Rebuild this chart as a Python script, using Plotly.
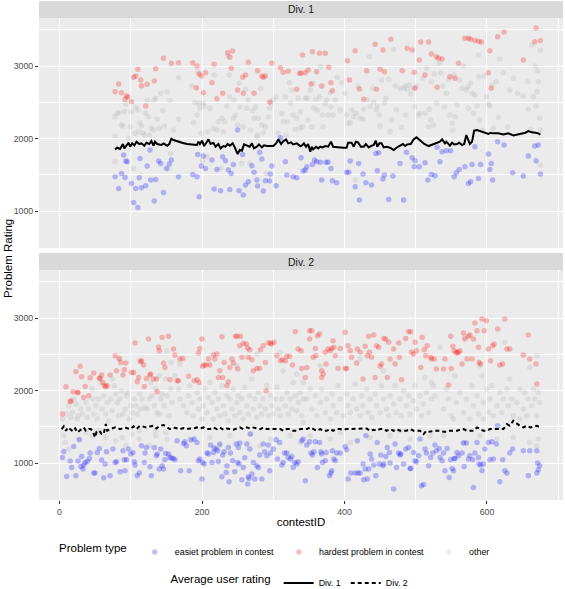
import plotly.graph_objects as go

# ---------------- Div. 1 data ----------------
d1_easy_id = [78, 83, 90, 87, 93, 95, 92, 101, 104, 107, 110, 113, 115, 112, 121, 123, 127, 128, 133, 135,
              139, 142, 146, 150, 154, 157, 167, 187, 193, 194, 196, 199, 202, 205, 214, 217, 221, 226, 229, 233,
              237, 239, 241, 244, 250, 252, 257, 258, 261, 265, 270, 273, 277, 278, 281, 284, 286, 289, 295, 296,
              298, 304, 310, 317, 319, 328, 333, 339, 342, 345, 347, 355, 358, 361, 366, 368, 374, 377, 381, 383,
              389, 403, 406, 408, 415, 420, 421, 426, 430, 438, 444, 446, 448, 454, 456, 462, 468, 478, 483, 487,
              495, 498, 499, 505, 513, 517, 522, 527, 530, 534, 537, 543, 549, 554, 557, 561, 569, 574, 577, 579,
              583, 588, 591, 602, 604, 606, 608, 615, 624, 636, 651, 658, 667, 672, 669, 675]
d1_easy_r = [1473, 1312, 1772, 1519, 1689, 1680, 1464, 1381, 1119, 1312, 1050, 1726, 1321, 1459, 1349, 1620, 1841, 1427, 1137, 1436,
             1689, 1657, 1257, 1588, 1648, 1703, 1473, 1505, 1473, 1781, 1197, 1620, 1758, 1588, 1703, 1303, 1574, 1280, 1749, 1694,
             1565, 1298, 1519, 1643, 2117, 1280, 1781, 1220, 1358, 1404, 1625, 1533, 1427, 1344, 1809, 1717, 1275, 1418, 1413, 1510,
             1620, 1349, 2011, 1680, 1496, 1473, 1459, 1735, 1551, 1565, 1611, 1643, 1703, 1680, 1671, 1427, 1671, 1671, 1588, 1418,
             1390, 1533, 1533, 1689, 1335, 1657, 1151, 1510, 1390, 1358, 1795, 1556, 1804, 1441, 1496, 1160, 1482, 1657, 1151, 1809,
             1735, 1611, 1694, 1611, 1666, 1427, 1505, 1487, 1878, 1680, 1818, 1832, 1832, 1473, 1528, 1574, 1611, 1381, 1404, 1643,
             1887, 1450, 1643, 1786, 1574, 1657, 1427, 1956, 1910, 1528, 1482, 1758, 1896, 1910, 1694, 1510]

d1_hard_id = [78, 83, 87, 92, 94, 96, 101, 104, 107, 110, 114, 115, 123, 121, 133, 135, 146, 157, 167, 187,
              193, 192, 196, 199, 202, 205, 214, 217, 221, 229, 236, 239, 243, 241, 250, 258, 257, 261, 265, 273,
              278, 284, 286, 289, 295, 298, 310, 314, 321, 333, 337, 339, 341, 345, 349, 353, 355, 361, 365, 368,
              373, 378, 381, 383, 404, 407, 415, 421, 427, 431, 443, 445, 450, 454, 456, 465, 481, 488, 495, 498,
              499, 505, 507, 513, 518, 522, 529, 532, 537, 530, 548, 555, 560, 569, 574, 577, 583, 588, 592, 604,
              602, 606, 615, 624, 651, 669, 667, 675]
d1_hard_r = [2646, 2752, 2632, 2540, 2586, 2572, 2508, 2844, 2862, 2954, 2807, 2729, 2747, 2448, 2793, 2963, 3106, 3037, 3046, 3046,
             3000, 2701, 2890, 2862, 2632, 2908, 2770, 3023, 2549, 2623, 3184, 3120, 3207, 2968, 2669, 2623, 2844, 2876, 3051, 2623,
             2936, 2862, 2844, 2862, 2503, 3037, 2977, 2913, 2926, 2678, 2899, 2899, 3152, 2908, 2945, 2752, 3198, 2922, 3175, 2724,
             3175, 2982, 2770, 2660, 3074, 2807, 3212, 2683, 2540, 2936, 3299, 2678, 2954, 3221, 2922, 3368, 2936, 3244, 3221, 2913,
             2692, 3083, 3331, 2876, 3331, 3166, 3129, 3106, 3097, 2706, 2853, 2830, 3037, 3382, 3382, 3368, 3350, 3340, 3331, 3212,
             2908, 2692, 3405, 3469, 3083, 3524, 3336, 3350]

d1_other_id = [78, 78, 78, 81, 84, 87, 89, 91, 93, 97, 99, 101, 104, 106, 107, 110, 111, 113, 115, 117,
               119, 121, 123, 125, 126, 129, 132, 133, 135, 137, 140, 142, 145, 147, 151, 153, 155, 156, 160, 167,
               167, 186, 188, 190, 193, 194, 196, 197, 199, 201, 202, 203, 207, 208, 211, 216, 217, 221, 223, 226,
               228, 230, 232, 235, 236, 238, 239, 244, 245, 247, 250, 252, 253, 256, 258, 261, 263, 265, 267, 268,
               271, 273, 275, 277, 278, 279, 282, 284, 286, 289, 290, 293, 295, 297, 300, 304, 307, 310, 312, 314,
               317, 318, 320, 323, 324, 326, 328, 331, 333, 335, 338,
               338, 341, 345, 348, 349, 352, 354, 356, 357, 360, 362, 365, 367, 369, 370, 373, 375, 377, 380, 381,
               384, 387, 390, 394, 396, 401, 403, 405, 408, 410, 413, 415, 416, 419, 422, 426, 427, 432, 435, 436,
               440, 441, 445, 446, 449, 450, 452, 456, 458, 462, 464, 466, 469, 471, 473, 478, 480, 483, 485, 486,
               488, 491, 493, 497, 499, 501, 504, 506, 510, 513, 515, 518, 519, 521, 522, 525, 526, 529, 533, 535,
               538, 540, 543, 546, 548, 551, 552, 554, 555, 558, 561, 565, 567, 571, 573, 574, 577, 579, 581, 583,
               586, 588, 589, 590, 594, 596, 599, 602, 604, 607, 609, 613, 616, 618, 623, 629, 632, 637, 643, 651,
               657, 658, 661, 663, 665, 668, 669, 671, 672, 674, 675, 675, 675, 670]
d1_other_r = [2301, 2034, 1680, 2347, 2356, 2186, 2172, 2370, 2476, 2002, 2163, 2370, 1588, 2071, 2430, 2393, 2094, 2218, 2172, 2080,
              2048, 2347, 2531, 2301, 2048, 2140, 2117, 2531, 2554, 2264, 2140, 2623, 2384, 2172, 2646, 1588, 2522, 1795, 2117, 2839,
              2264, 2724, 2218, 2494, 2324, 2922, 2485, 2416, 2071, 1694, 2485, 2448, 1749, 2094, 2416, 2140, 2876, 2117, 2232, 1588,
              2278, 2094, 2232, 2448, 3138, 2876, 2577, 2278, 2531, 2324, 2186, 2761, 2430, 1657, 2163, 2678, 2416, 2531, 1657, 2117,
              2379, 2278, 2430, 2025, 2048, 2278, 2692, 2186, 2080, 2163, 1519, 2301, 2416, 2485, 2531, 2577, 2071, 1979, 2347, 2232,
              2577, 2048, 2232, 2770, 2485, 2669, 2324, 2126, 2278, 2554, 2140,
              2370, 2163, 2554, 2554, 2255, 2669, 2163, 2761, 2416, 2540, 2393, 2577, 2991, 2324, 2163, 2476, 2531, 2324, 2632, 2439,
              2324, 2531, 2844, 2393, 2770, 2623, 2324, 2209, 2218, 2393, 2301, 1427, 2347, 2715, 2278, 2264, 2402, 2531, 3129, 2439,
              2692, 2508, 2393, 2448, 2324, 2172, 2807, 2485, 2554, 2816, 2094, 2255, 3230, 2724, 2393, 2692, 2154, 2692, 2724, 2324,
              2678, 2738, 2614, 2692, 2439, 2724, 2324, 2347, 2830, 2347, 2968, 2163, 2402, 2255, 2784, 2186, 2890, 2485, 3037, 2908,
              2724, 2439, 2623, 2816, 2324, 2209, 2117, 2876, 2301, 2462, 2807, 2692, 3000, 2669, 2706, 2416, 2761, 2623, 2347, 2600,
              2448, 3152, 2853, 2255, 2117, 2862, 2577, 2471, 2448, 2738, 2140, 2784, 2292, 3092, 2908, 2163, 2669, 2830, 2623, 2586,
              2784, 2402, 2126, 3290, 2577, 3000, 2448, 2936, 2784, 2278, 2117, 1634, 3221, 2646]

d1_avg_id = [78, 81, 85, 89, 91, 93, 97, 99, 102, 105, 108, 112, 115, 119, 122, 126, 129, 132, 134, 137,
             140, 143, 146, 151, 154, 157, 160, 165, 172, 179, 186, 193, 195, 197, 200, 203, 207, 209, 212, 216,
             219, 223, 226, 230, 233, 236, 239, 243, 246, 250, 253, 256, 259, 263, 267, 270, 273, 277, 280, 284,
             287, 291, 296, 300, 304, 307, 311, 314, 318, 321, 325, 328, 333, 338,
             340, 343, 346, 349, 352, 354, 356, 360, 363, 366, 369, 373, 377, 381, 384, 391, 398, 403, 405, 410,
             413, 416, 419, 423, 427, 430, 434, 437, 441, 444, 446, 449, 452, 455, 459, 464, 469, 473, 478, 482,
             485, 488, 493, 497, 501, 506, 512, 518, 525, 529, 534, 537, 541, 543, 548, 551, 554, 558, 561, 565,
             568, 571, 573, 576, 579, 582, 586, 590, 594, 597, 602, 605, 609, 616, 623, 630, 637, 646, 654, 658,
             663, 668, 672, 675]
d1_avg_r = [1850, 1873, 1855, 1924, 1864, 1896, 1942, 1887, 1933, 1905, 1956, 1924, 1933, 1901, 1942, 1924, 1965, 1901, 1956, 1924,
            1919, 1910, 1933, 1901, 1924, 1997, 1979, 1961, 1942, 1924, 1914, 1910, 1956, 1924, 1970, 1896, 1956, 1988, 1924, 1942,
            1887, 1924, 1864, 1896, 1887, 1924, 1901, 1933, 1878, 1786, 1841, 1832, 1919, 1901, 1887, 1933, 1864, 1887, 1919, 1878,
            1905, 1896, 1901, 1896, 1933, 1988, 1924, 1961, 1988, 1933, 1947, 1919, 1933, 1896,
            1901, 1933, 1887, 1924, 1818, 1887, 1850, 1887, 1864, 1887, 1878, 1896, 1887, 1956, 1887, 1878, 1873, 1873, 1942, 1942,
            1887, 1956, 1947, 1887, 1887, 1924, 1878, 1896, 1910, 1970, 1887, 1933, 1933, 1878, 1887, 1873, 1841, 1873, 1901, 1924,
            1896, 1919, 1924, 1988, 2016, 1979, 1924, 1896, 1924, 1933, 1956, 1988, 1933, 1956, 1901, 1942, 1919, 1924, 1942, 1910,
            1924, 2048, 1988, 1924, 1956, 2108, 2117, 2103, 2080, 2071, 2062, 2080, 2071, 2071, 2057, 2071, 2043, 2062, 2080, 2103,
            2085, 2080, 2071, 2053]

# ---------------- Div. 2 data ----------------
d2_easy_id = [4, 6, 10, 15, 17, 20, 23, 26, 28, 30, 31, 33, 34, 36, 39, 42, 43, 48, 50, 53,
              56, 59, 62, 64, 66, 71, 75, 78, 80, 85, 89, 91, 92, 94, 97, 100, 103, 105, 106, 109,
              112, 115, 119, 120, 122, 127, 129, 133, 136, 137, 140, 142, 144, 146, 148, 149, 153, 155, 157, 160,
              162, 165, 170, 174, 176, 178, 182, 185, 189, 193, 195, 197, 200, 201, 203, 207, 209, 212, 214, 216,
              217, 220, 222, 223, 225, 228, 229, 231, 234, 235, 237, 238, 240, 243, 246, 248, 250, 251, 252, 253,
              256, 258, 260, 263, 264, 265, 266, 267, 268, 270, 272, 274, 277, 279, 281, 284, 286, 288, 291, 293,
              295, 296, 300, 304, 306, 309, 312, 314, 316, 319, 321, 324, 326, 328, 330, 333, 335,
              340, 342, 345, 347, 351, 353, 355, 357, 359, 362, 365, 367, 368, 369, 373, 374, 379, 381, 382,
              383, 385, 387, 389, 394, 401, 403, 405, 409, 415, 418, 419, 422, 426, 427, 429, 430, 432, 434, 436,
              438, 441, 444, 446, 449, 451, 454, 455, 458, 460, 463, 464, 469, 471, 473, 476, 478, 479, 483, 486,
              490, 492, 493, 497, 499, 501, 504, 506, 508, 511, 513, 515, 518, 521, 524, 527, 529, 533, 534, 537,
              539, 541, 544, 547, 549, 551, 553, 554, 555, 558, 560, 565, 567, 568, 571, 574, 576, 580, 581, 583,
              586, 588, 589, 591, 593, 595, 597, 602, 604, 607, 609, 613, 615, 618, 622, 625, 628, 632, 636, 651,
              658, 660, 670, 671, 674, 670, 672]
d2_easy_r = [1077, 1160, 815, 1027, 939, 1229, 824, 1027, 1321, 953, 1091, 916, 971, 1008, 1022, 1063, 1137, 861, 861, 1146,
             1201, 1040, 797, 985, 1155, 824, 1192, 1008, 1017, 879, 1169, 1045, 893, 1045, 1192, 1123, 1146, 1017, 971, 824,
             861, 1238, 1008, 1137, 1215, 948, 824, 1215, 1100, 1123, 916, 1192, 962, 916, 1045, 1132, 1123, 1077, 1068, 1063,
             1045, 1307, 893, 1270, 1293, 1238, 893, 1316, 1330, 1284, 1031, 1054, 778, 1008, 985, 1137, 1123, 1247, 1008, 1146,
             1206, 1192, 1169, 1022, 1261, 810, 1109, 1155, 870, 962, 1215, 741, 1137, 1031, 879, 1261, 1008, 1215, 985, 1275,
             769, 939, 1073, 1261, 709, 810, 787, 1192, 1399, 847, 1008, 778, 962, 939, 1109, 778, 1261, 1155, 1100, 1247,
             893, 1137, 1192, 1321, 1054, 1284, 971, 1008, 1137, 1137, 1077, 1054, 1091, 939, 1008, 985, 1017,
             1307, 1330, 755, 1247, 1293, 1137, 1109, 1155, 1293, 939, 1284, 1155, 1123, 1008, 1031, 1146, 824, 861, 893,
             1169, 1054, 1031, 1137, 1137, 1229, 1183, 778, 861, 861, 1307, 861, 861, 985, 769, 916, 1376, 778, 916, 1123,
             1054, 971, 824, 1284, 985, 1109, 962, 985, 1091, 1215, 1146, 999, 640, 1261, 939, 1137, 1109, 1123, 985, 1192,
             1215, 925, 925, 1146, 1031, 1017, 1100, 1330, 686, 704, 1192, 1137, 962, 1077, 1137, 1247, 1169, 1201, 1077, 1031,
             1137, 893, 1201, 801, 1045, 925, 893, 1063, 1063, 1146, 1100, 1137, 1275, 953, 1275, 1054, 1100, 1045, 663, 1137,
             1284, 1077, 985, 971, 893, 985, 1192, 1284, 1045, 1293, 1054, 1261, 1514, 741, 1045, 893, 861, 1137, 1192, 1169,
             824, 1169, 1169, 999, 962, 861, 907]

d2_hard_id = [4, 9, 15, 16, 19, 23, 25, 26, 29, 31, 34, 36, 41, 43, 48, 56, 57, 59, 61, 63,
              65, 67, 71, 78, 80, 84, 86, 89, 91, 93, 101, 104, 106, 109, 111, 114, 115, 118, 119, 122,
              125, 127, 128, 132, 136, 137, 139, 140, 144, 146, 148, 153, 155, 160, 162, 165, 167, 169, 173, 181,
              189, 193, 195, 196, 197, 200, 201, 203, 206, 209, 211, 216, 218, 221, 223, 225, 228, 229, 231, 235,
              237, 239, 242, 244, 247, 249, 250, 253, 254, 256, 258, 262, 264, 265, 267, 270, 272, 277, 281, 282,
              286, 289, 290, 293, 296, 298, 301, 305, 310, 313, 317, 319, 323, 327, 331, 335,
              339, 340, 345, 347, 351, 351, 354, 356, 359, 360, 362, 365, 368, 368, 370, 373, 374, 377, 380, 382,
              384, 385, 387, 391, 394, 401, 401, 403, 405, 408, 410, 417, 418, 422, 426, 429, 432, 434, 435, 438,
              441, 443, 445, 448, 450, 452, 455, 458, 460, 462, 464, 469, 471, 476, 477, 480, 486, 490, 493, 494,
              497, 499, 501, 507, 509, 512, 514, 516, 521, 522, 526, 529, 539, 541, 546, 549, 550, 552, 554, 557,
              558, 560, 562, 565, 567, 569, 572, 574, 576, 579, 581, 583, 586, 588, 589, 591, 593, 596, 599, 602,
              605, 608, 610, 615, 618, 622, 625, 628, 632, 651, 658, 660, 669, 670]
d2_hard_r = [1675, 2052, 1845, 1859, 1983, 2259, 1974, 1974, 2333, 2190, 1905, 2057, 1928, 2177, 2241, 2167, 2172, 2213, 2112, 2066,
             2057, 2066, 2213, 2480, 2273, 2443, 2388, 2213, 2287, 2379, 2250, 2250, 2655, 2121, 2181, 2397, 2411, 2351, 2057, 2167,
             2710, 2213, 2227, 2158, 2158, 1983, 2600, 2549, 2733, 2379, 2319, 2747, 2149, 2572, 2489, 2135, 2135, 2434, 2443, 2195,
             2135, 2149, 2517, 2112, 2581, 2710, 2333, 2351, 2351, 2434, 2351, 2489, 2434, 2503, 2181, 2273, 2742, 2181, 2388, 2066,
             2121, 2319, 2434, 2379, 2747, 2747, 2296, 2618, 2747, 2457, 2650, 2641, 2586, 2457, 2563, 2425, 2273, 2305, 2305, 2563,
             2618, 2388, 1997, 2655, 2655, 2641, 2664, 2480, 2411, 2425, 2411, 2471, 2471, 2351, 2811, 2572,
             2549, 2305, 2181, 2319, 2710, 2825, 2825, 2457, 2581, 2480, 2756, 2779, 2273, 2181, 2227, 2526, 2365, 2572, 2549, 2581,
             2687, 2595, 2480, 2305, 2581, 2802, 2305, 2305, 2618, 2549, 2457, 2379, 2572, 2526, 2158, 2609, 2480, 2747, 2526, 2457,
             2765, 2181, 2618, 2595, 2333, 2365, 2719, 2710, 2181, 2664, 2434, 2572, 2365, 2655, 2457, 2149, 2719, 2811, 2811, 2526,
             2503, 2664, 2549, 2319, 2733, 2563, 2480, 2618, 2457, 2434, 2434, 2296, 2296, 2434, 2075, 2747, 2305, 2609, 2549, 2526,
             2517, 2526, 2549, 2365, 2793, 2710, 2434, 2747, 2765, 2434, 2710, 2931, 2825, 2595, 2388, 2365, 2986, 2825, 2963, 2572,
             2411, 2618, 2641, 2848, 2351, 2365, 2986, 2572, 2572, 2489, 2765, 2434, 2365, 2089]

d2_other_id = [6, 8, 10, 13, 16, 18, 20, 23, 25, 26, 30, 32, 37, 39, 41, 46, 47, 48, 51, 53,
               55, 58, 60, 62, 65, 67, 69, 72, 74, 77, 79, 81, 83, 85, 87, 89, 92, 94, 95, 98,
               100, 102, 105, 107, 109, 112, 114, 116, 120, 123, 126, 128, 130, 133, 135, 137, 140, 142, 144, 147,
               149, 151, 154, 156, 158, 27, 46, 65, 88, 112, 135, 151, 79, 102, 37, 93, 126, 13, 149, 55,
               112, 135, 4, 74, 83, 112, 140, 151,
               157, 162, 167, 169, 174, 179, 181, 183, 186, 188, 193, 195, 197, 200, 202, 204, 207, 209, 211, 214,
               216, 218, 221, 223, 225, 228, 230, 232, 235, 237, 239, 242, 244, 246, 249, 251, 253, 256, 258, 260,
               263, 265, 267, 270, 272, 274, 277, 279, 281, 284, 286, 289, 291, 293, 296, 298, 300, 303, 305, 307,
               310, 312, 314, 317, 319, 321, 324, 326, 328, 331, 333, 335, 338, 340, 342, 183, 211, 239, 267, 296,
               324, 338, 225, 281, 169, 249, 310, 277, 333,
               342, 347, 352, 354, 359, 361, 366, 368, 373, 375, 380, 382, 384, 389, 391, 394, 398, 403, 405, 408,
               412, 415, 417, 422, 424, 426, 431, 433, 436, 438, 443, 445, 450, 452, 455, 459, 462, 464, 469, 471,
               473, 478, 480, 483, 487, 490, 492, 497, 499, 501, 506, 508, 511, 515, 518, 522, 525, 352, 380, 408,
               436, 464, 492, 520, 394, 478, 366, 422, 455, 513, 342,
               522, 527, 534, 539, 543, 546, 550, 555, 557, 562, 567, 569, 571, 576, 579, 581, 586, 588, 590, 593,
               595, 600, 602, 604, 607, 609, 614, 618, 621, 623, 625, 628, 630, 632, 635, 637, 642, 646, 651, 653,
               656, 658, 660, 663, 665, 667, 670, 672, 674, 672, 670, 660, 637, 614, 590, 567, 539, 553, 595, 646,
               670]
d2_other_r = [1376, 1284, 1675, 1790, 1629, 1698, 1882, 1813, 1606, 1652, 1744, 1675, 1836, 1629, 1744, 2020, 1882, 1675, 1790, 1606,
              1882, 2112, 1744, 1928, 1675, 1836, 1583, 1882, 1721, 2066, 1951, 1836, 1652, 1882, 1997, 1675, 1744, 1928, 1974, 1606,
              1790, 1698, 1882, 1790, 1675, 1951, 1744, 1882, 1767, 1744, 1882, 2112, 1928, 1790, 2020, 1698, 1675, 1882, 1951, 1790,
              2158, 1928, 1652, 2020, 1836, 1330, 1376, 1353, 1353, 1330, 1376, 1330, 1307, 1399, 1422, 1238, 1238, 1192, 1422, 1445,
              1445, 1445, 1606, 2158, 2434, 2411, 2204, 2549,
              2388, 2204, 2020, 1882, 1790, 1698, 1928, 2066, 1836, 1652, 1974, 1744, 1882, 1606, 1790, 2020, 1698, 1905, 2112, 1836,
              1606, 1974, 1744, 1882, 1652, 2066, 1790, 1675, 1928, 1583, 1882, 1744, 2020, 1652, 1836, 1928, 1698, 1882, 1606, 2043,
              1790, 1675, 1928, 2158, 1744, 1882, 1629, 1974, 1790, 1675, 1882, 1744, 2066, 1652, 1928, 1790, 1675, 1882, 2043, 1744,
              1652, 1882, 2273, 1790, 1974, 1675, 1882, 1744, 2112, 1928, 1721, 1836, 1974, 1652, 1882, 1330, 1353, 1376, 1399, 1330,
              1376, 1284, 1238, 1238, 2365, 2342, 2526, 2503, 2227,
              2112, 1882, 2020, 1744, 1928, 1652, 1836, 2020, 1698, 1882, 1606, 1951, 1790, 1698, 2066, 1882, 1652, 1951, 1790, 1698,
              1882, 2089, 1744, 1652, 1928, 1790, 2020, 1698, 1882, 1629, 1951, 1790, 1698, 2066, 1882, 1744, 1652, 1928, 1813, 2066,
              1698, 1882, 1652, 1997, 1790, 1928, 1675, 1859, 2066, 1744, 1928, 1652, 1813, 1974, 1698, 1882, 2066, 1376, 1330, 1284,
              1353, 1376, 1330, 1376, 1422, 1445, 2342, 2434, 2273, 2181, 1560,
              2112, 1928, 2595, 1744, 2020, 1882, 1652, 2204, 1836, 1974, 1698, 2733, 1882, 1606, 2066, 1790, 1928, 1675, 2342, 2204,
              1836, 2020, 1698, 1882, 2066, 1652, 1790, 1974, 1698, 1882, 2664, 2020, 1790, 2158, 1882, 1652, 1836, 2020, 1744, 1974,
              1652, 1882, 2319, 1790, 2020, 1882, 1652, 1974, 1836, 1330, 1238, 1284, 1353, 1330, 1376, 1284, 1376, 1606, 1606, 1606,
              2480]

d2_avg_id = [3, 6, 9, 12, 16, 19, 22, 25, 28, 31, 34, 37, 41, 44, 47, 50, 52, 56, 59, 62,
             65, 67, 71, 78, 85, 92, 99, 104, 108, 113, 118, 122, 127, 132, 136, 141, 146, 151, 155, 160,
             165, 169, 174, 179, 183, 188, 193, 197, 202, 207, 211, 216, 221, 225, 230, 235, 239, 244, 249, 253,
             258, 263, 267, 272, 277, 282, 286, 291, 296, 300, 305, 310, 314, 319, 324, 328, 333, 338,
             342, 347, 352, 356, 361, 366, 370, 375, 380, 384, 389, 394, 398, 403, 408, 412, 417, 422, 427, 431,
             436, 441, 445, 450, 455, 459, 464, 469, 473, 478, 483, 487, 492, 497, 501, 506, 511, 515, 520, 525,
             529, 534, 539, 543, 548, 553, 558, 562, 567, 572, 576, 581, 586, 590, 595, 600, 604, 609, 614, 618,
             623, 628, 632, 637, 642, 646, 651, 656, 661, 665, 670, 675]
d2_avg_r = [1468, 1505, 1445, 1491, 1459, 1436, 1477, 1422, 1445, 1468, 1491, 1445, 1468, 1468, 1431, 1353, 1431, 1445, 1399, 1399,
            1537, 1445, 1468, 1491, 1468, 1491, 1468, 1505, 1468, 1514, 1505, 1491, 1505, 1514, 1477, 1514, 1523, 1491, 1468, 1491,
            1477, 1468, 1482, 1468, 1477, 1477, 1491, 1477, 1491, 1468, 1468, 1491, 1468, 1491, 1459, 1477, 1468, 1459, 1477, 1491,
            1468, 1491, 1477, 1491, 1477, 1468, 1491, 1468, 1468, 1468, 1468, 1468, 1445, 1468, 1468, 1445, 1445, 1468,
            1468, 1468, 1491, 1468, 1445, 1468, 1445, 1445, 1468, 1445, 1468, 1468, 1459, 1468, 1468, 1468, 1477, 1468, 1468, 1477,
            1445, 1459, 1445, 1468, 1468, 1445, 1468, 1445, 1468, 1445, 1445, 1445, 1468, 1445, 1445, 1445, 1399, 1445, 1431, 1445,
            1445, 1445, 1431, 1431, 1445, 1445, 1445, 1459, 1468, 1445, 1445, 1445, 1491, 1468, 1445, 1445, 1468, 1468, 1468, 1477,
            1468, 1537, 1514, 1583, 1537, 1514, 1491, 1514, 1491, 1505, 1514, 1491]

# ---------------- styling ----------------
BLUE = "rgba(0,0,255,0.25)"
RED = "rgba(255,0,0,0.25)"
GREY = "rgba(175,175,175,0.25)"
MS = 5.5
FONT = "Liberation Sans, Arial, sans-serif"
W, H = 565, 589

fig = go.Figure()


def pts(x, y, color, name, axis, show, rank):
    xa, ya = axis
    fig.add_trace(go.Scatter(
        x=x, y=y, mode="markers", name=name, xaxis=xa, yaxis=ya,
        marker=dict(color=color, size=MS, line=dict(width=0)),
        showlegend=show, legend="legend", legendrank=rank, hoverinfo="skip"))


for axis, data, show in [(("x", "y"), (d1_other_id, d1_other_r, d1_easy_id, d1_easy_r, d1_hard_id, d1_hard_r), True),
                         (("x2", "y2"), (d2_other_id, d2_other_r, d2_easy_id, d2_easy_r, d2_hard_id, d2_hard_r), False)]:
    oi, orr, ei, er, hi, hr = data
    pts(oi, orr, GREY, "other", axis, show, 3)
    pts(ei, er, BLUE, "easiet problem in contest", axis, show, 1)
    pts(hi, hr, RED, "hardest problem in contest", axis, show, 2)

fig.add_trace(go.Scatter(x=d1_avg_id, y=d1_avg_r, mode="lines", name="Div. 1", xaxis="x", yaxis="y",
                         line=dict(color="black", width=2), legend="legend2", legendrank=1, hoverinfo="skip"))
fig.add_trace(go.Scatter(x=d2_avg_id, y=d2_avg_r, mode="lines", name="Div. 2", xaxis="x2", yaxis="y2",
                         line=dict(color="black", width=2, dash="4px,3px"), legend="legend2", legendrank=2,
                         hoverinfo="skip"))

XR = [-28.8, 706.7]
YR = [490, 3662]


def py(ypix):
    return 1 - ypix / H


x_dom = [39 / W, 563 / W]
top_dom = [py(248), py(18)]
bot_dom = [py(500), py(270)]

axis_common = dict(
    showgrid=True, gridcolor="white", gridwidth=1.1, zeroline=False, showline=False, automargin=False,
    tickfont=dict(family=FONT, size=8.8, color="#4D4D4D"),
    ticklen=3, tickcolor="#333333", tickwidth=0.8,
)

fig.update_layout(
    width=W, height=H,
    paper_bgcolor="white", plot_bgcolor="#EBEBEB",
    margin=dict(l=0, r=0, t=0, b=0, autoexpand=False),
    font=dict(family=FONT, color="black"),
    xaxis=dict(domain=x_dom, anchor="y", range=XR, matches="x2", showticklabels=False, ticks="",
               dtick=200, tick0=0, **axis_common),
    xaxis2=dict(domain=x_dom, anchor="y2", range=XR, dtick=200, tick0=0, ticks="outside",
                title=dict(text="contestID", font=dict(family=FONT, size=11.5, color="black"), standoff=2),
                **axis_common),
    yaxis=dict(domain=top_dom, anchor="x", range=YR, dtick=1000, tick0=0, ticks="outside", **axis_common),
    yaxis2=dict(domain=bot_dom, anchor="x2", range=YR, dtick=1000, tick0=0, ticks="outside", **axis_common),
    legend=dict(orientation="h", xref="paper", yref="paper", x=276 / W, y=py(552),
                xanchor="center", yanchor="middle",
                title=dict(text="Problem type", font=dict(family=FONT, size=11.5, color="black"), side="left"),
                font=dict(family=FONT, size=8.9, color="black"), itemsizing="trace",
                bgcolor="rgba(0,0,0,0)", tracegroupgap=0, itemwidth=30),
    legend2=dict(orientation="h", xref="paper", yref="paper", x=291 / W, y=py(583),
                 xanchor="center", yanchor="middle",
                 title=dict(text="Average user rating", font=dict(family=FONT, size=11.5, color="black"),
                            side="left"),
                 font=dict(family=FONT, size=8.9, color="black"), bgcolor="rgba(0,0,0,0)", itemwidth=30),
)
fig.update_layout(
    xaxis_minor=dict(dtick=100, tick0=0, ticks="", showgrid=True, gridcolor="white", gridwidth=0.5),
    xaxis2_minor=dict(dtick=100, tick0=0, ticks="", showgrid=True, gridcolor="white", gridwidth=0.5),
    yaxis_minor=dict(dtick=500, tick0=0, ticks="", showgrid=True, gridcolor="white", gridwidth=0.5),
    yaxis2_minor=dict(dtick=500, tick0=0, ticks="", showgrid=True, gridcolor="white", gridwidth=0.5))

# facet strips
for (yt, yb, label) in [(1, 18, "Div. 1"), (253, 270, "Div. 2")]:
    fig.add_shape(type="rect", xref="paper", yref="paper", x0=x_dom[0], x1=x_dom[1], y0=py(yb), y1=py(yt),
                  fillcolor="#D9D9D9", line=dict(width=0), layer="below")
    fig.add_annotation(xref="paper", yref="paper", x=(x_dom[0] + x_dom[1]) / 2, y=py((yt + yb) / 2), text=label,
                       showarrow=False, font=dict(family=FONT, size=10.5, color="#1A1A1A"),
                       xanchor="center", yanchor="middle")

# shared y title
fig.add_annotation(xref="paper", yref="paper", x=8 / W, y=py(259), text="Problem Rating", textangle=-90,
                   showarrow=False, font=dict(family=FONT, size=11.5, color="black"),
                   xanchor="center", yanchor="middle")

fig.write_html("out.html", config={"displayModeBar": False},
               post_script="document.body.style.margin='0';document.body.style.padding='0';"
                           "document.body.style.overflow='hidden';")
